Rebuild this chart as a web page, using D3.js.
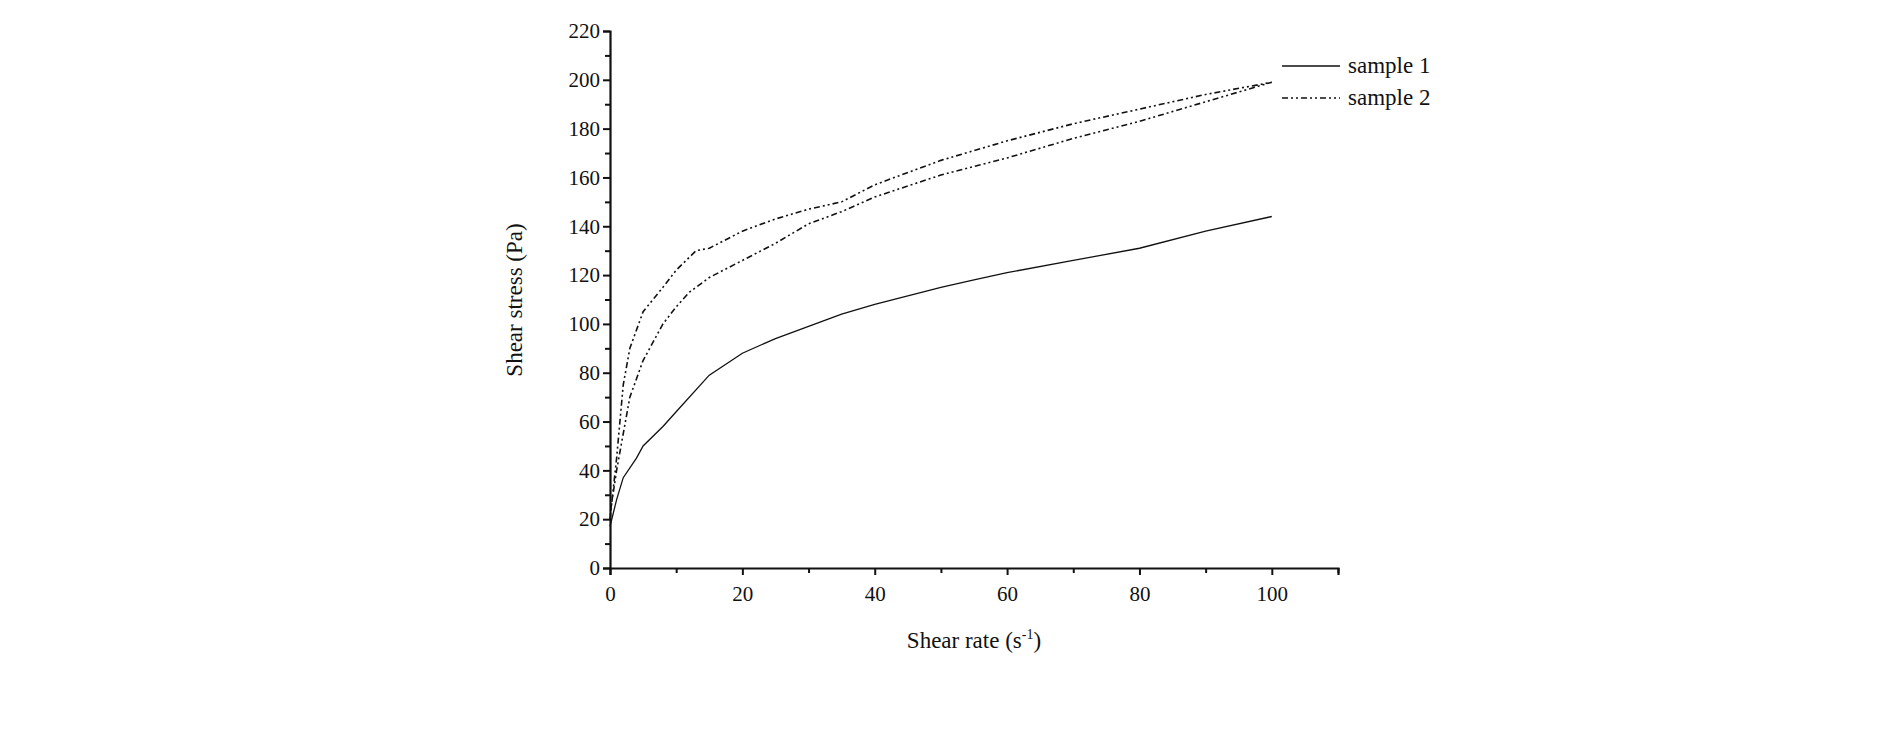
<!DOCTYPE html>
<html><head><meta charset="utf-8">
<script src="https://cdn.jsdelivr.net/npm/d3@7"></script>
<style>body{margin:0;background:#fff}text{font-family:"Liberation Serif",serif;fill:#111}</style>
</head><body><svg id="c" width="1884" height="738"></svg>
<script>
var s1x = [0,1,2,4,5,8,10,15,20,25,30,35,40,50,55,60,70,80,90,100];
var s1y = [17,28,37,45,50,58,64,79,88,94,99,104,108,115,118,121,126,131,138,144];
var upX = [0,1,2,3,5,8,10,13,15,20,25,30,35,40,50,60,70,80,90,100];
var upY = [20,45,75,90,105,115,122,130,131,138,143,147,150,157,167,175,182,188,194,199];
var downX = [100,90,80,70,60,50,40,35,30,25,20,15,12,10,8,5,3,2,1,0];
var downY = [199,191,183,176,168,161,152,146,141,133,126,119,113,107,100,85,70,55,40,22];
var xTicks = [0,20,40,60,80,100];
var yTicks = [0,20,40,60,80,100,120,140,160,180,200,220];

var svg = d3.select('#c');
var x = d3.scaleLinear().domain([0,110]).range([610,1338]);
var y = d3.scaleLinear().domain([0,220]).range([568,31]);

// axes
var ax = svg.append('g').attr('transform','translate(0,568)')
	.call(d3.axisBottom(x).tickValues(d3.range(0,111,10)).tickSize(7).tickFormat(function(d){return xTicks.indexOf(d)>=0 ? d : '';}));
var ay = svg.append('g').attr('transform','translate(610,0)')
	.call(d3.axisLeft(y).tickValues(d3.range(0,221,10)).tickSize(7).tickFormat(function(d){return yTicks.indexOf(d)>=0 ? d : '';}));
[ax, ay].forEach(function(a){
	a.select('.domain').attr('stroke','#111').attr('stroke-width',2.2);
	a.selectAll('.tick line').attr('stroke','#111').attr('stroke-width',2);
	a.selectAll('text').style('font-size','21px').style('font-family','Liberation Serif').attr('fill','#111');
});
ax.selectAll('text').attr('dy','1.1em');
ay.selectAll('.tick').filter(function(d){return d%20;}).select('line').attr('x2',-5);
ax.selectAll('.tick').filter(function(d){return d%20;}).select('line').attr('y2',5);

var line = d3.line().x(function(d){return x(d[0]);}).y(function(d){return y(d[1]);});
var zip = function(a,b){return a.map(function(v,i){return [v,b[i]];});};
svg.append('path').attr('d',line(zip(s1x,s1y))).attr('fill','none').attr('stroke','#111').attr('stroke-width',1.3);
svg.append('path').attr('d',line(zip(upX,upY).concat(zip(downX,downY)))).attr('fill','none')
	.attr('stroke','#111').attr('stroke-width',1.6).attr('stroke-dasharray','6,3,2,3,2,3');

// legend
svg.append('line').attr('x1',1282).attr('x2',1340).attr('y1',66).attr('y2',66).attr('stroke','#111').attr('stroke-width',1.3);
svg.append('line').attr('x1',1282).attr('x2',1340).attr('y1',98).attr('y2',98).attr('stroke','#111').attr('stroke-width',1.6).attr('stroke-dasharray','6,3,2,3,2,3');
svg.append('text').attr('x',1348).attr('y',73).style('font-size','23px').text('sample 1');
svg.append('text').attr('x',1348).attr('y',105).style('font-size','23px').text('sample 2');

// axis titles
svg.append('text').attr('transform','translate(522,300) rotate(-90)').attr('text-anchor','middle').style('font-size','23px').text('Shear stress (Pa)');
var xt = svg.append('text').attr('x',974).attr('y',648).attr('text-anchor','middle').style('font-size','23px');
xt.append('tspan').text('Shear rate (s');
xt.append('tspan').attr('dy',-9).style('font-size','14px').text('-1');
xt.append('tspan').attr('dy',9).text(')');
</script></body></html>
